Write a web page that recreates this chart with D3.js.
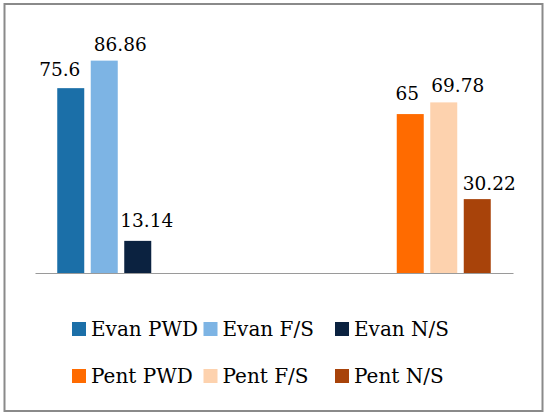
<!DOCTYPE html>
<html>
<head>
<meta charset="utf-8">
<script src="https://cdn.jsdelivr.net/npm/d3@7"></script>
<style>
  html, body { margin: 0; padding: 0; background: #fff; }
  svg { display: block; }
</style>
</head>
<body>
<div id="chart"></div>
<script>
// Chart values
const categories = ["Evan", "Pent"];
const seriesNames = ["Evan PWD", "Evan F/S", "Evan N/S", "Pent PWD", "Pent F/S", "Pent N/S"];
const seriesCategory = ["Evan", "Evan", "Evan", "Pent", "Pent", "Pent"];
const seriesValues = [75.6, 86.86, 13.14, 65, 69.78, 30.22];
const valueLabels = ["75.6", "86.86", "13.14", "65", "69.78", "30.22"];

// Colours and label nudges (layout, not data)
const colors = ["#1b6fa8", "#7db4e4", "#0b2240", "#ff6b00", "#fdd2ae", "#a8430a"];
const labelNudge = [[-11, -12], [16, -10], [9, -14], [-3, -14], [14, -10], [12, -9]];

function draw() {

    let width = 550, height = 419;

    let svg = d3.select("#chart")
        .append("svg")
        .attr("width", width)
        .attr("height", height);

    // Outer border
    svg.append("rect")
        .attr("x", 4.5)
        .attr("y", 4)
        .attr("width", 538)
        .attr("height", 407)
        .attr("fill", "#fff")
        .attr("stroke", "#8a8a8a")
        .attr("stroke-width", 2);

    // Scales
    let x0 = d3.scaleBand()
        .domain(categories)
        .range([35, 513])
        .padding(0);

    let x1 = d3.scaleBand()
        .domain(seriesNames)
        .range([0, x0.bandwidth()])
        .paddingInner(0.194)
        .paddingOuter(0.664);

    let y = d3.scaleLinear()
        .domain([0, 100])
        .range([273, 28.5]);

    let bars = seriesNames.map((name, i) => ({
        name: name,
        cat: seriesCategory[i],
        value: seriesValues[i],
        label: valueLabels[i],
        color: colors[i],
        nudge: labelNudge[i]
    }));

    // Bars
    svg.selectAll(".bar")
        .data(bars)
        .enter()
        .append("rect")
        .attr("class", "bar")
        .attr("x", d => x0(d.cat) + x1(d.name))
        .attr("y", d => y(d.value))
        .attr("width", x1.bandwidth())
        .attr("height", d => y(0) - y(d.value))
        .attr("fill", d => d.color);

    // Baseline axis
    let axis = svg.append("g")
        .attr("transform", "translate(0," + y(0) + ")")
        .call(d3.axisBottom(x0).tickSize(0).tickFormat(""));
    axis.select(".domain")
        .attr("stroke", "#9a9a9a")
        .attr("stroke-width", 1.2);

    // Value labels
    svg.selectAll(".val")
        .data(bars)
        .enter()
        .append("text")
        .attr("class", "val")
        .attr("x", d => x0(d.cat) + x1(d.name) + x1.bandwidth() / 2 + d.nudge[0])
        .attr("y", d => y(d.value) + d.nudge[1])
        .attr("text-anchor", "middle")
        .style("font-family", "DejaVu Serif")
        .style("font-size", "18.5px")
        .attr("fill", "#000")
        .text(d => d.label);

    // Legend, three per row
    let legend = svg.selectAll(".leg")
        .data(bars)
        .enter()
        .append("g")
        .attr("class", "leg")
        .attr("transform", (d, i) => "translate(" + (72 + (i % 3) * 131.5) + "," + (322 + Math.floor(i / 3) * 47) + ")");

    legend.append("rect")
        .attr("width", 14)
        .attr("height", 14)
        .attr("fill", d => d.color);

    legend.append("text")
        .attr("x", 19)
        .attr("y", 14)
        .style("font-family", "DejaVu Serif")
        .style("font-size", "20px")
        .attr("fill", "#000")
        .text(d => d.name);
}

draw();
</script>
</body>
</html>
